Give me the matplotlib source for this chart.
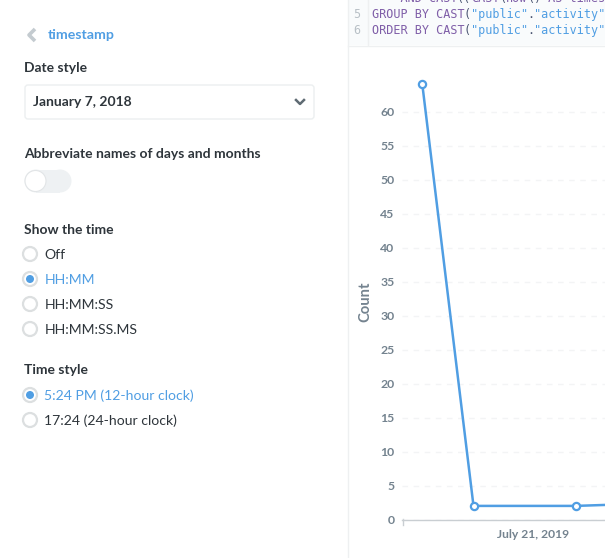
import matplotlib
matplotlib.use("Agg")
import matplotlib.pyplot as plt
from matplotlib.patches import Circle, FancyBboxPatch, Rectangle

W, H = 605, 558

# chart data
point_x = [0.5, 1.0, 2.0, 3.0]
counts = [64, 2, 2, 2.5]
y_ticks = [0, 5, 10, 15, 20, 25, 30, 35, 40, 45, 50, 55, 60]
x_tick_pos = [1.58]
x_tick_labels = ["July 21, 2019"]
y_label = "Count"

# settings panel text
show_time_options = ["Off", "HH:MM", "HH:MM:SS", "HH:MM:SS.MS"]
time_style_options = ["5:24 PM (12-hour clock)", "17:24 (24-hour clock)"]

BLUE = "#509ee3"
DARK = "#2e353b"
GREY = "#74838f"
PURPLE = "#7f5ea8"
PAREN = "#4c5773"

# sql block, split in coloured pieces
sql_lines = [
    ("", [("    AND CAST", PURPLE), ("((", PAREN), ("CAST", PURPLE), ("(", PAREN), ("now", PURPLE),
          ("()", PAREN), (" AS timest", PURPLE)]),
    ("5", [("GROUP BY CAST", PURPLE), ("(", PAREN), ('"public"', BLUE), (".", PAREN), ('"activity"', BLUE)]),
    ("6", [("ORDER BY CAST", PURPLE), ("(", PAREN), ('"public"', BLUE), (".", PAREN), ('"activity"', BLUE)]),
]

plt.rcParams["font.family"] = ["Lato", "DejaVu Sans"]

fig = plt.figure(figsize=(W / 100, H / 100), dpi=100, facecolor="white")

# full figure axes in pixels for the settings panel
ui = fig.add_axes([0, 0, 1, 1])
ui.set_xlim(0, W)
ui.set_ylim(H, 0)
ui.axis("off")


def label(x, y, s, size=10.0, color=DARK, weight="normal", **kw):
    ui.text(x, y + 1, s, fontsize=size, color=color, fontweight=weight, va="center", **kw)


def radio(y, text, selected=False):
    ui.add_patch(Circle((30, y), 7, fc="white", ec="#dcdfe0", lw=1.6))
    if selected:
        ui.add_patch(Circle((30, y), 4, fc=BLUE, ec="none"))
    label(44.5, y, text, size=10.05, color=BLUE if selected else DARK)


# back link
ui.plot([35, 29, 35], [29, 35, 41], color="#c4cbd0", lw=2.6, solid_capstyle="butt")
label(48, 34, "timestamp", size=10.2, color=BLUE, weight="bold")

label(24, 67.5, "Date style", size=10, weight="bold")
ui.add_patch(FancyBboxPatch((25, 85), 289, 34, boxstyle="round,pad=0,rounding_size=3",
                            fc="white", ec="#eceff0", lw=1))
label(33, 101, "January 7, 2018", size=10, weight="bold")
ui.plot([296, 300, 304], [100, 104, 100], color="#5f6b73", lw=1.8)

label(24, 152.5, "Abbreviate names of days and months", size=10, weight="bold")
ui.add_patch(Rectangle((36, 169.5), 24, 23, fc="#eef1f3", ec="none"))
ui.add_patch(Circle((36, 181), 11.5, fc="#eef1f3", ec="none"))
ui.add_patch(Circle((60, 181), 11.5, fc="#eef1f3", ec="none"))
ui.add_patch(Circle((35.5, 181), 10.5, fc="white", ec="#e2e5e7", lw=0.8))

label(24, 228.5, "Show the time", size=10, weight="bold")
for i, opt in enumerate(show_time_options):
    radio(254 + i * 25, opt, selected=i == 1)

label(24, 369.5, "Time style", size=10, weight="bold")
for i, opt in enumerate(time_style_options):
    radio(395 + i * 25, opt, selected=i == 0)

# right panel: border, sql block
ui.plot([347.5, 347.5], [0, H], color="#eef0f1", lw=1)
ui.add_patch(Rectangle((348, 0), W - 348, 45, fc="#f9fbfc", ec="none"))
ui.plot([348, W], [45.5, 45.5], color="#eef0f1", lw=1)
ui.plot([367.5, 367.5], [0, 45], color="#eef0f1", lw=1)
char_w = 7.06
for i, (num, pieces) in enumerate(sql_lines):
    y = -1.5 + i * 16
    ui.text(357, y, num, fontsize=8.45, color="#b8c0c6", ha="center", va="center",
            family="DejaVu Sans Mono")
    x = 372
    for piece, colour in pieces:
        ui.text(x, y, piece, fontsize=8.45, color=colour, va="center", family="DejaVu Sans Mono")
        x += len(piece) * char_w

# chart axes, placed on the pixel grid of the reference
ax_left, ax_right, ax_top, ax_bottom = 402.3, 605, 60, 519.5
ax = fig.add_axes([ax_left / W, 1 - ax_bottom / H, (ax_right - ax_left) / W, (ax_bottom - ax_top) / H])
ax.patch.set_alpha(0)
ax.set_ylim(0, (ax_bottom - ax_top) / 6.8)
px_per_unit = 102.4
ax.set_xlim(0.5 - (422.3 - ax_left) / px_per_unit, 0.5 + (ax_right - 422.3) / px_per_unit)

ax.plot(point_x, counts, color=BLUE, lw=1.8, marker="o", ms=5.2, mfc="white", mec=BLUE, mew=1.6, zorder=3)

for s in ["top", "right", "left"]:
    ax.spines[s].set_visible(False)
ax.spines["bottom"].set_color("#c9ced2")
ax.spines["bottom"].set_linewidth(1)

ax.set_yticks(y_ticks)
ax.tick_params(axis="y", length=0, pad=5.7, labelsize=8.8, labelcolor=GREY)
for t in ax.get_yticklabels():
    t.set_fontweight("bold")
ax.yaxis.grid(True, color="#f3f4f5", lw=1, ls=(0, (4, 4)))
ax.set_axisbelow(True)
ax.set_xticks(x_tick_pos, x_tick_labels)
ax.tick_params(axis="x", length=0, pad=6.5, labelsize=8.7, labelcolor=GREY)
for t in ax.get_xticklabels():
    t.set_fontweight("bold")
ax.set_ylabel(y_label, fontsize=10.6, fontweight="bold", color=GREY)
ax.yaxis.set_label_coords((372 - ax_left) / (ax_right - ax_left), (ax_bottom - 302) / (ax_bottom - ax_top))

# small tick at the start of the axis
ui.plot([402.5, 402.5], [519, 525], color="#c9ced2", lw=1)

fig.savefig("out.png", dpi=100)
